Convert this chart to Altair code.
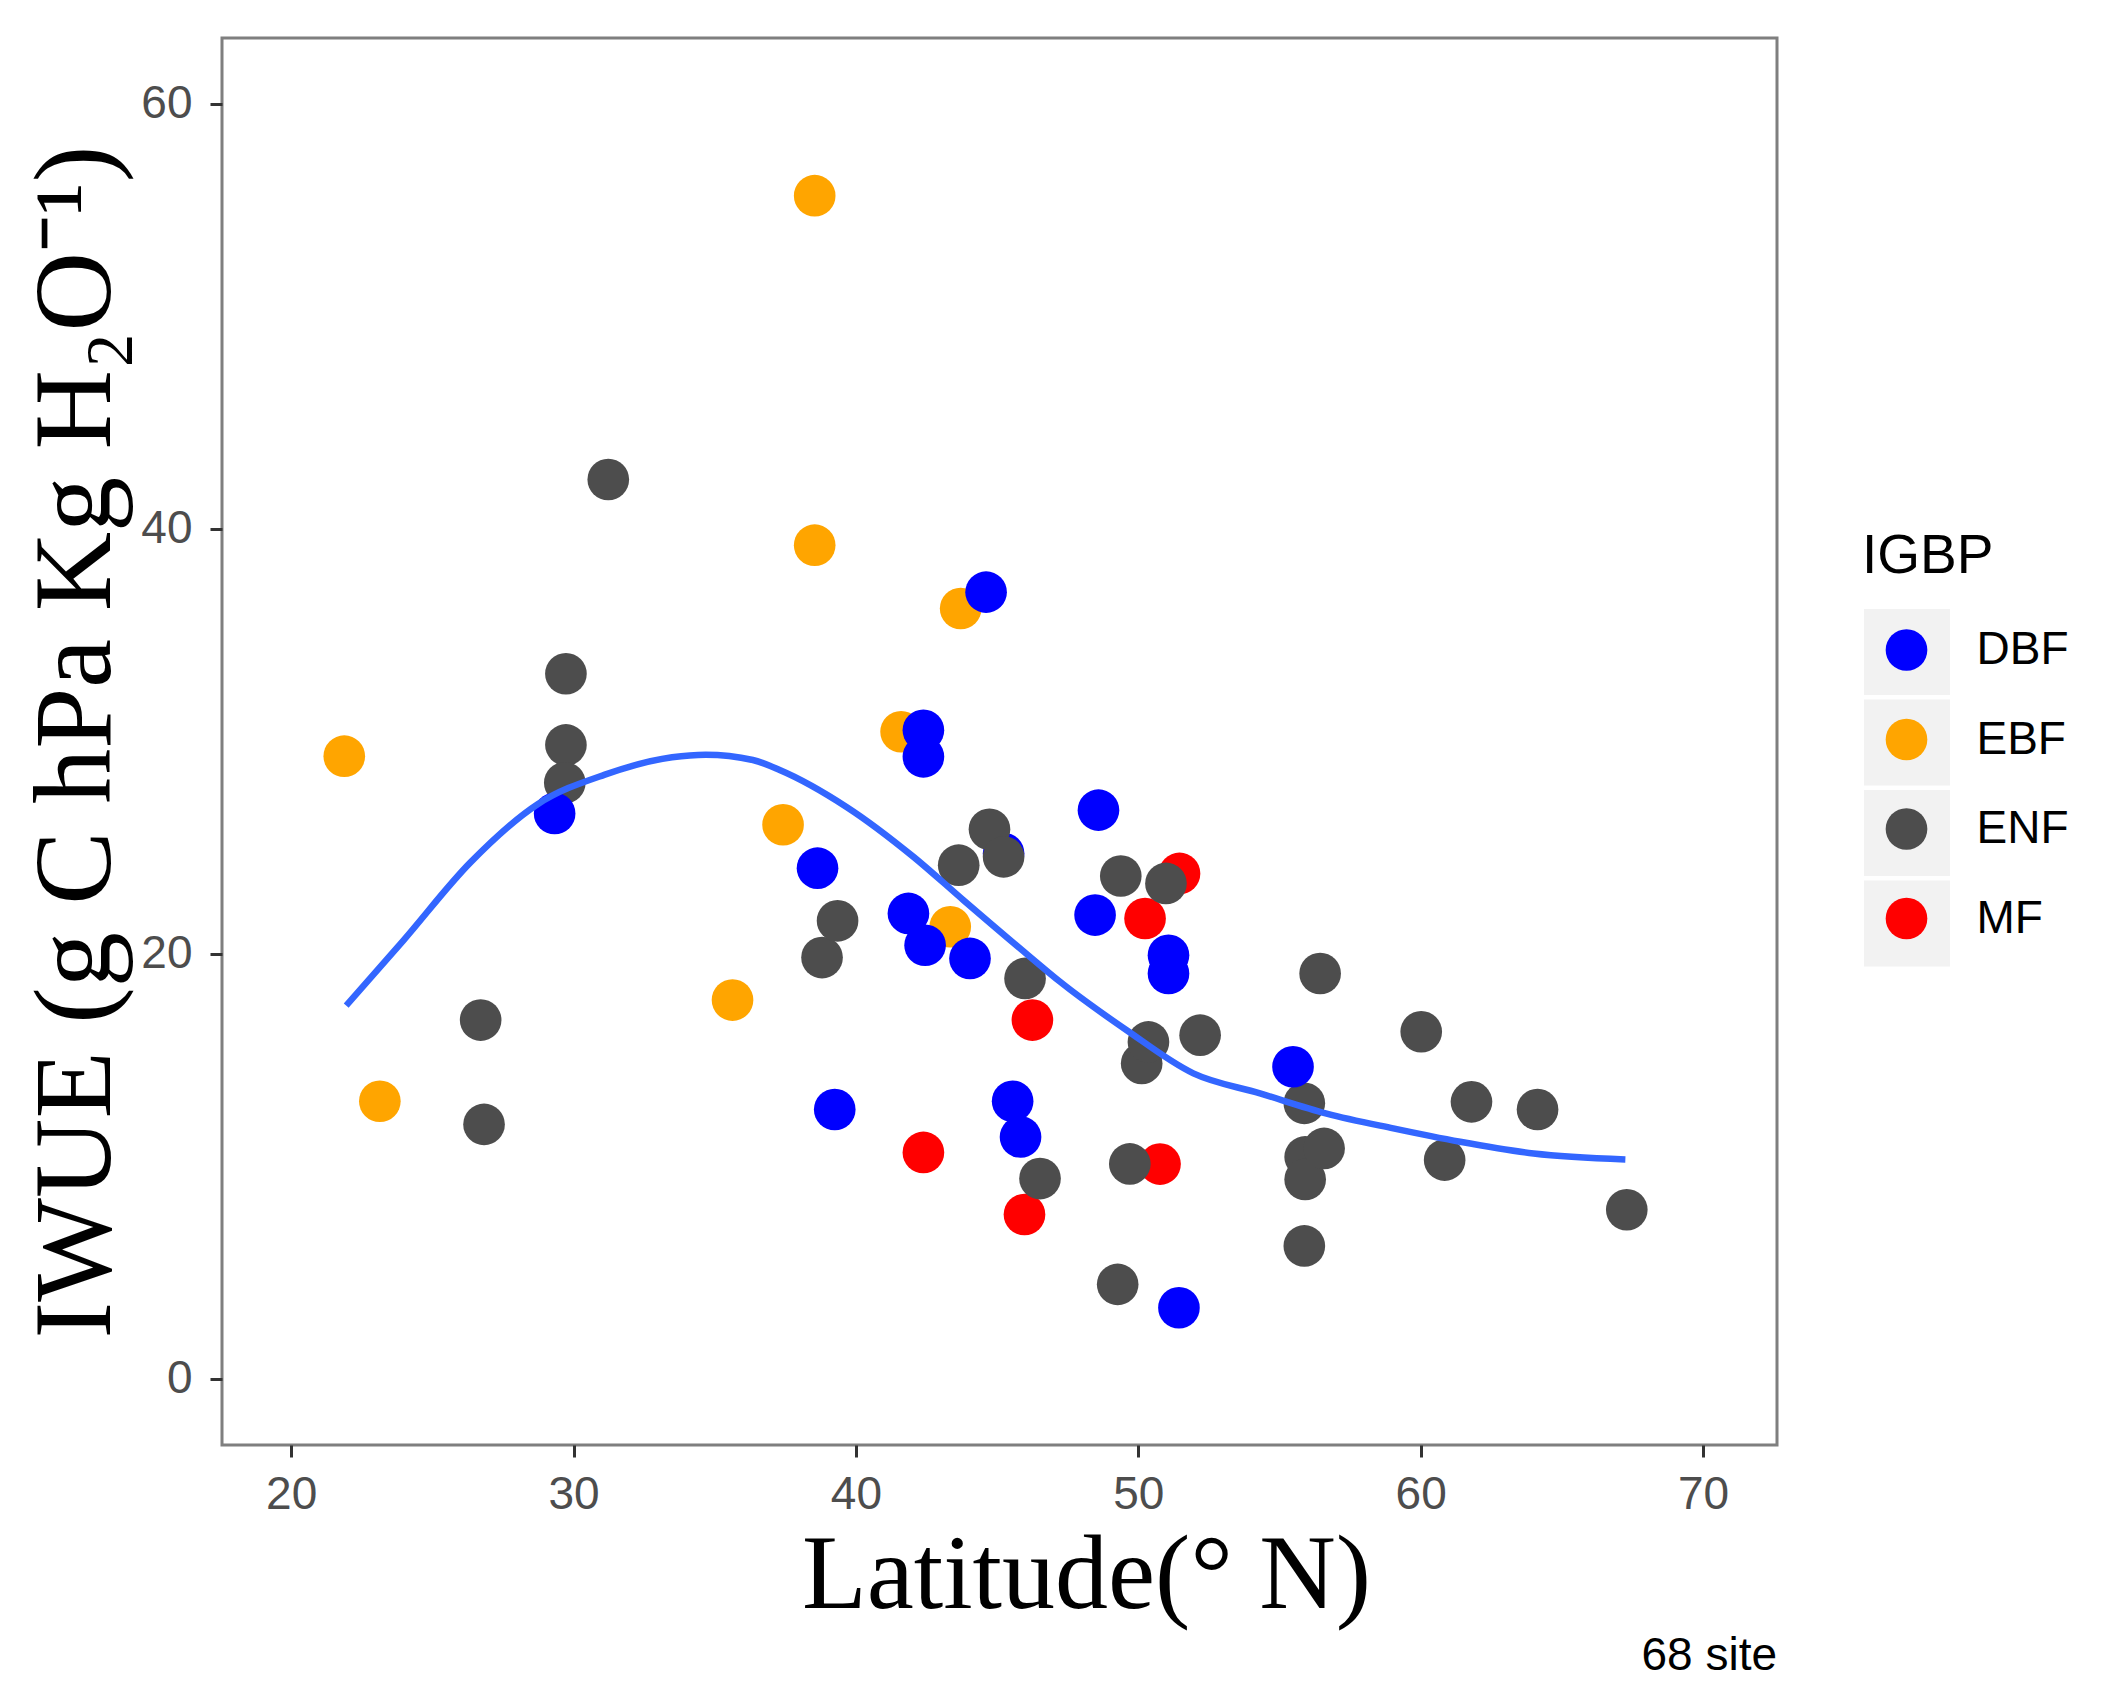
import altair as alt
import pandas as pd

IGBP_order = ["DBF", "EBF", "ENF", "MF"]
IGBP_colors = ["#0000FF", "#FFA500", "#4D4D4D", "#FF0000"]

DBF_lat = [45.23, 29.33, 38.64, 39.25, 41.86, 42.39, 42.39, 42.45, 44.04, 44.61, 45.55, 45.83, 48.59, 48.47, 51.07, 51.07, 51.44, 55.48]
DBF_val = [24.72, 26.6, 24.03, 12.67, 21.9, 30.52, 29.27, 20.4, 19.78, 37.02, 13.06, 11.38, 26.76, 21.82, 19.93, 19.07, 3.34, 14.68]

EBF_lat = [21.88, 23.14, 35.63, 37.42, 38.54, 38.54, 41.6, 43.34, 43.71]
EBF_val = [29.3, 13.06, 17.82, 26.07, 55.68, 39.23, 30.45, 21.27, 36.25]

MF_lat = [42.39, 45.97, 46.25, 50.24, 50.77, 51.46]
MF_val = [10.65, 7.73, 16.88, 21.66, 10.1, 23.78]

ENF_lat = [26.71, 26.83, 29.73, 29.73, 29.69, 31.23, 38.8, 39.35, 43.64, 44.73, 45.23, 45.99, 46.52, 49.27,
           49.38, 49.7, 50.12, 50.36, 50.98, 52.19, 55.88, 55.91, 55.91, 56.58, 55.88, 56.44, 60.02, 60.85,
           61.8, 64.14, 67.3]
ENF_val = [16.88, 11.97, 33.18, 29.83, 28.05, 42.32, 19.82, 21.55, 24.17, 25.86, 24.56, 18.84, 9.42, 4.44,
           23.66, 10.11, 14.84, 15.85, 23.31, 16.17, 12.96, 10.44, 9.38, 10.84, 6.25, 19.07, 16.33, 10.29,
           13.03, 12.67, 7.95]

smooth_lat = [21.95, 23.97, 26.35, 28.73, 31.11, 33.49, 34.68, 36.35, 37.32, 39.68, 42.04, 43.81, 46.17,
              47.23, 49.59, 51.95, 54.31, 56.67, 59.03, 61.4, 64.0, 67.25]
smooth_val = [17.56, 20.62, 24.3, 27.04, 28.43, 29.25, 29.37, 29.12, 28.64, 26.9, 24.56, 22.52, 19.85,
              18.68, 16.4, 14.37, 13.43, 12.48, 11.78, 11.15, 10.6, 10.32]

x_ticks = [20, 30, 40, 50, 60, 70]
y_ticks = [0, 20, 40, 60]

rows = []
def add(group, lats, vals):
    for a, b in zip(lats, vals):
        rows.append({"lat": a, "val": b, "IGBP": group, "key": group})

add("DBF", DBF_lat[:1], DBF_val[:1])
add("EBF", EBF_lat, EBF_val)
add("MF", MF_lat, MF_val)
add("ENF", ENF_lat, ENF_val)
add("DBF", DBF_lat[1:], DBF_val[1:])
df = pd.DataFrame(rows)
curve = pd.DataFrame({"lat": smooth_lat, "val": smooth_val})

W, H = 1555, 1407

x_enc = alt.X("lat:Q",
              scale=alt.Scale(domain=[17.55, 72.62], nice=False, zero=False),
              axis=alt.Axis(values=x_ticks, title="Latitude(° N)", grid=False, domain=False,
                            labelPadding=15, titleX=864, titleY=162,
                            titleAlign="center", titleBaseline="alphabetic", titleAnchor="middle"))
y_enc = alt.Y("val:Q",
              scale=alt.Scale(domain=[-3.12, 63.1], nice=False, zero=False),
              axis=alt.Axis(values=y_ticks, title="IWUE (g C hPa Kg H₂O⁻¹)", grid=False, domain=False,
                            labelPadding=18, titleX=-113, titleY=H / 2, titleAngle=270,
                            titleFontSize=110,
                            titleAlign="center", titleBaseline="alphabetic"))

# light grey key backgrounds (separate legend, drawn beneath the coloured one)
keys = alt.Chart(df).mark_square(opacity=0, size=10).encode(
    x=x_enc, y=y_enc,
    color=alt.Color("key:N",
                    scale=alt.Scale(range=["#F2F2F2"] * 4),
                    legend=alt.Legend(title=None, symbolType="square", symbolSize=7396,
                                      symbolOpacity=1, symbolStrokeWidth=0, labelExpr="''",
                                      orient="none", legendX=1642, legendY=571,
                                      rowPadding=4.5, padding=0, offset=0, labelFontSize=10)),
)

points = alt.Chart(df).mark_circle(size=1735, opacity=1).encode(
    x=x_enc, y=y_enc,
    fill=alt.Fill("IGBP:N",
                  scale=alt.Scale(domain=IGBP_order, range=IGBP_colors),
                  legend=alt.Legend(title="IGBP", symbolType="circle", symbolSize=1735,
                                    symbolOpacity=1, symbolStrokeWidth=0,
                                    orient="none", legendX=1640, legendY=492,
                                    symbolOffset=21.5,
                                    rowPadding=43.5, padding=0, offset=0,
                                    titleFontSize=55, titleFont="Liberation Sans",
                                    titleFontWeight="normal", titleColor="black",
                                    titlePadding=42, titleBaseline="top",
                                    labelFontSize=46, labelFont="Liberation Sans",
                                    labelColor="black", labelOffset=47)),
)

line = alt.Chart(curve).mark_line(color="#3366FF", strokeWidth=6.5, interpolate="monotone").encode(
    x=x_enc, y=y_enc
)

chart = alt.layer(keys, points, line).properties(
    width=W, height=H,
    background="white",
    autosize=alt.AutoSizeParams(type="none"),
    padding={"left": 214, "top": 30, "right": 320, "bottom": 240},
    title=alt.TitleParams(text="68 site", orient="bottom", anchor="end", frame="group",
                          fontSize=46, font="Liberation Sans", fontWeight="normal",
                          color="black", offset=6),
).configure_view(
    stroke="#7F7F7F", strokeWidth=3
).configure_axis(
    labelFont="Liberation Sans", labelFontSize=46, labelColor="#4D4D4D",
    tickSize=12, tickWidth=3, tickColor="#333333",
    titleFont="Liberation Serif", titleFontSize=106, titleFontWeight="normal", titleColor="black",
)

chart.save("out.html", embed_options={"renderer": "svg", "actions": False})
